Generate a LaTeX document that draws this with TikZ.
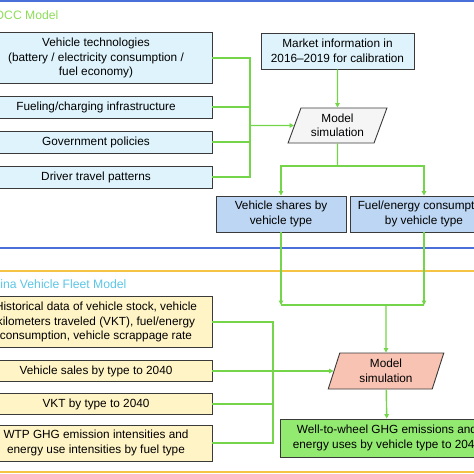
\documentclass[tikz,border=0pt]{standalone}
\usepackage{fontspec}
\setmainfont{Liberation Sans}
\usetikzlibrary{shapes.geometric,arrows.meta}
\definecolor{linkgreen}{HTML}{74D44A}
\definecolor{titlegreen}{HTML}{8EDC5A}
\definecolor{titlecyan}{HTML}{5CC6E6}
\definecolor{bandblue}{HTML}{4A6FD8}
\definecolor{bandorange}{HTML}{F6C445}
\definecolor{boxborder}{HTML}{3A3A3A}
\definecolor{cyanfill}{HTML}{DEF3FB}
\definecolor{bluefill}{HTML}{BDD6F3}
\definecolor{grayfill}{HTML}{F5F5F5}
\definecolor{yellowfill}{HTML}{FFF4C6}
\definecolor{salmonfill}{HTML}{F9C3B3}
\definecolor{greenfill}{HTML}{93EA71}
\tikzset{
  box/.style={draw=boxborder,line width=0.9pt,inner sep=0pt,align=center,
    font=\fontsize{11.8}{14.5}\selectfont},
  inbox/.style={box,fill=cyanfill,minimum width=232pt},
  outbox/.style={box,fill=bluefill,minimum height=36pt},
  datbox/.style={box,fill=yellowfill,minimum width=232pt},
  simbox/.style={box,trapezium,trapezium stretches=true},
  link/.style={linkgreen,line width=1.4pt},
  arrow/.style={link,-{Triangle[length=4.5pt,width=4.5pt]}},
  band/.style={line width=2pt},
  title/.style={font=\fontsize{12.2}{14}\selectfont,anchor=base east}
}
\begin{document}
\begin{tikzpicture}[x=1pt,y=-1pt]
  \path[use as bounding box,clip] (0,0) rectangle (474,474);
  % separators between the two models
  \draw[band,bandblue] (-10,1) -- (484,1);
  \draw[band,bandblue] (-10,248) -- (484,248);
  \draw[band,bandorange] (-10,271) -- (484,271);
  \draw[band,bandorange] (-10,472) -- (484,472);
  \node[title,text=titlegreen] (neocc) at (62,19.5) {NEOCC Model};
  \node[title,text=titlecyan] (fleet) at (130,288.5) {China Vehicle Fleet Model};

  % NEOCC model
  \node[inbox,minimum height=51pt] (tech) at (96,58) {Vehicle technologies\\(battery / electricity consumption /\\fuel economy)};
  \node[inbox,minimum height=22pt] (infra) at (96,107) {Fueling/charging infrastructure};
  \node[inbox,minimum height=22pt] (policy) at (96,142) {Government policies};
  \node[inbox,minimum height=22pt] (travel) at (96,177) {Driver travel patterns};
  \node[box,fill=cyanfill,minimum width=153pt,minimum height=36pt] (market) at (337.5,51) {Market information in\\2016--2019 for calibration};
  \node[simbox,fill=grayfill,trapezium left angle=68,trapezium right angle=112,
    minimum width=99pt,minimum height=35pt] (sim1) at (337.5,125.5) {Model\\simulation};
  \node[outbox,minimum width=130pt] (shares) at (281,214) {Vehicle shares by\\vehicle type};
  \node[outbox,minimum width=148pt] (energy) at (424,214) {Fuel/energy consumption\\by vehicle type};
  \coordinate (bus1) at (250,125.5);
  \coordinate (split1) at (337.5,166);
  \draw[link] (tech.east) -| (bus1);
  \draw[link] (infra.east) -| (bus1);
  \draw[link] (policy.east) -| (bus1);
  \draw[link] (travel.east) -| (bus1);
  \draw[arrow] (bus1) -- (sim1.west);
  \draw[arrow] (market) -- (sim1);
  \draw[link] (sim1.south) -- (split1);
  \draw[arrow] (split1) -| (shares.north);
  \draw[arrow] (split1) -| (energy.north);

  % fleet model
  \node[datbox,minimum height=51pt] (hist) at (96,322) {Historical data of vehicle stock, vehicle\\kilometers traveled (VKT), fuel/energy\\consumption, vehicle scrappage rate};
  \node[datbox,minimum height=21pt] (sales) at (96,371) {Vehicle sales by type to 2040};
  \node[datbox,minimum height=21pt] (vkt) at (96,404) {VKT by type to 2040};
  \node[datbox,minimum height=36pt] (wtp) at (96,443) {WTP GHG emission intensities and\\energy use intensities by fuel type};
  \node[simbox,fill=salmonfill,trapezium left angle=74,trapezium right angle=106,
    minimum width=116pt,minimum height=36pt] (sim2) at (386,371) {Model\\simulation};
  \node[box,fill=greenfill,minimum width=214pt,minimum height=38pt] (wtw) at (387,438) {Well-to-wheel GHG emissions and\\energy uses by vehicle type to 2040};
  \coordinate (merge) at (386,305);
  \coordinate (bus2) at (273,371);
  \draw[arrow] (shares.south) -- (shares.south |- merge);
  \draw[arrow] (energy.south) -- (energy.south |- merge);
  \draw[link] (shares.south |- merge) -- (energy.south |- merge);
  \draw[arrow] (merge) -- (sim2.north);
  \draw[link] (hist.east) -| (bus2);
  \draw[link] (vkt.east) -| (bus2);
  \draw[link] (wtp.east) -| (bus2);
  \draw[arrow] (sales.east) -- (sales.east -| sim2.west);
  \draw[arrow] (sim2) -- (wtw);
\end{tikzpicture}
\end{document}
